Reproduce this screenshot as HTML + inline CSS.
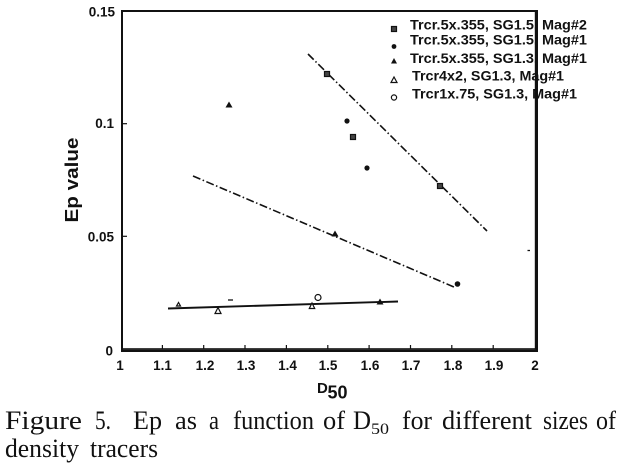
<!DOCTYPE html>
<html>
<head>
<meta charset="utf-8">
<style>
  html,body{margin:0;padding:0;background:#fff;}
  #wrap{position:relative;width:628px;height:467px;overflow:hidden;}
  svg{display:block;position:absolute;left:0;top:0;}
  #frame{position:absolute;left:121px;top:10px;width:413px;height:338px;border:2px solid #111;box-sizing:content-box;}
  .b{font-family:"Liberation Sans",Arial,sans-serif;font-weight:bold;fill:#111;}
  .s{font-family:"Liberation Serif","Times New Roman",serif;fill:#111;}
</style>
</head>
<body>
<div id="wrap">
<svg width="628" height="467" viewBox="0 0 628 467" xmlns="http://www.w3.org/2000/svg">
  <rect width="628" height="467" fill="#fff"/>

  <!-- x ticks -->
  <g stroke="#111" stroke-width="1.2">
    <line x1="162.4" y1="349" x2="162.4" y2="345"/>
    <line x1="203.7" y1="349" x2="203.7" y2="345"/>
    <line x1="245" y1="349" x2="245" y2="345"/>
    <line x1="286.4" y1="349" x2="286.4" y2="345"/>
    <line x1="327.8" y1="349" x2="327.8" y2="345"/>
    <line x1="369.1" y1="349" x2="369.1" y2="345"/>
    <line x1="410.5" y1="349" x2="410.5" y2="345"/>
    <line x1="451.8" y1="349" x2="451.8" y2="345"/>
    <line x1="493.2" y1="349" x2="493.2" y2="345"/>
    <!-- y ticks -->
    <line x1="122" y1="123.7" x2="127" y2="123.7"/>
    <line x1="122" y1="236.3" x2="127" y2="236.3"/>
  </g>

  <!-- y tick labels -->
  <g class="b" font-size="13.5" text-anchor="end">
    <text x="115" y="16.5">0.15</text>
    <text x="114" y="128">0.1</text>
    <text x="114" y="241.5">0.05</text>
    <text x="113" y="355.5">0</text>
  </g>

  <!-- x tick labels -->
  <g class="b" font-size="13.5" text-anchor="middle">
    <text x="120" y="370">1</text>
    <text x="162.5" y="370">1.1</text>
    <text x="205" y="370">1.2</text>
    <text x="246" y="370">1.3</text>
    <text x="287.5" y="370">1.4</text>
    <text x="328" y="370">1.5</text>
    <text x="370" y="370">1.6</text>
    <text x="411" y="370">1.7</text>
    <text x="453" y="370">1.8</text>
    <text x="494" y="370">1.9</text>
    <text x="535" y="370">2</text>
  </g>

  <!-- axis titles -->
  <text class="b" font-size="15" x="317" y="393">D</text>
  <text class="b" font-size="18" x="327.5" y="398.5">50</text>
  <text class="b" font-size="18" text-anchor="middle" textLength="85" lengthAdjust="spacingAndGlyphs" transform="translate(78,180) rotate(-90)">Ep value</text>

  <!-- fit lines -->
  <g stroke="#111" fill="none">
    <line x1="308" y1="54" x2="487" y2="231" stroke-width="1.6" stroke-dasharray="8 2.5 1.5 2.5"/>
    <line x1="193" y1="176" x2="454" y2="287" stroke-width="1.6" stroke-dasharray="8 2.5 1.5 2.5"/>
    <line x1="168" y1="308.5" x2="398" y2="301.5" stroke-width="1.9"/>
  </g>

  <!-- data: squares (Mag#2) -->
  <g fill="#444" stroke="#111" stroke-width="1.2">
    <rect x="324.5" y="71.5" width="5" height="5"/>
    <rect x="350.5" y="134.5" width="5" height="5"/>
    <rect x="437.5" y="183.5" width="5" height="5"/>
    <rect x="391.5" y="26.5" width="5" height="5"/>
  </g>
  <!-- filled circles -->
  <g fill="#111">
    <circle cx="347" cy="121" r="2.6"/>
    <circle cx="367" cy="168" r="2.6"/>
    <circle cx="457.5" cy="284" r="2.8"/>
    <circle cx="394" cy="46.5" r="2.4"/>
  </g>
  <!-- filled triangles -->
  <g fill="#111">
    <polygon points="229,101.5 225.5,107.5 232.5,107.5"/>
    <polygon points="335,230.5 331.5,236.5 338.5,236.5"/>
    <polygon points="380,298.5 376.5,304.5 383.5,304.5"/>
    <polygon points="394,58 391,63.5 397,63.5"/>
  </g>
  <!-- open triangles -->
  <g fill="#fff" stroke="#111" stroke-width="1.2">
    <polygon points="218,307.5 215,313.5 221,313.5"/>
    <polygon points="312,303 309.3,308.5 314.7,308.5"/>
    <polygon points="178.5,302.5 176.5,306 180.5,306"/>
    <polygon points="394,77 391,82.5 397,82.5"/>
  </g>
  <!-- open circles -->
  <g fill="#fff" stroke="#111" stroke-width="1.2">
    <circle cx="318" cy="297.5" r="3"/>
    <circle cx="394" cy="97.5" r="2.6"/>
  </g>
  <!-- stray marks -->
  <g stroke="#111" stroke-width="1.3">
    <line x1="228" y1="300" x2="233" y2="300"/>
    <line x1="527.5" y1="250.5" x2="530" y2="250.5"/>
  </g>

  <!-- legend text -->
  <g class="b" font-size="14">
    <text x="410" y="29.7" textLength="177" lengthAdjust="spacingAndGlyphs">Trcr.5x.355, SG1.5, Mag#2</text>
    <text x="410" y="44.7" textLength="177" lengthAdjust="spacingAndGlyphs">Trcr.5x.355, SG1.5, Mag#1</text>
    <text x="410" y="63" textLength="177" lengthAdjust="spacingAndGlyphs">Trcr.5x.355, SG1.3, Mag#1</text>
    <text x="412" y="80.5" textLength="152" lengthAdjust="spacingAndGlyphs">Trcr4x2, SG1.3, Mag#1</text>
    <text x="412" y="98.7" textLength="165" lengthAdjust="spacingAndGlyphs">Trcr1x.75, SG1.3, Mag#1</text>
  </g>

  <!-- plot frame (svg) -->
  <g fill="#111">
    <rect x="121.2" y="10.2" width="1.7" height="339.6"/>
    <rect x="121.2" y="348.2" width="415.6" height="1.7"/>
    <rect x="121.2" y="10" width="415.6" height="2"/>
    <rect x="534.8" y="10" width="2" height="339.8"/>
  </g>

  <!-- caption -->
  <g class="s" font-size="26">
    <text x="5" y="429" textLength="77" lengthAdjust="spacingAndGlyphs">Figure</text>
    <text x="95" y="429" textLength="16" lengthAdjust="spacingAndGlyphs">5.</text>
    <text x="133" y="429" textLength="29" lengthAdjust="spacingAndGlyphs">Ep</text>
    <text x="175" y="429" textLength="22" lengthAdjust="spacingAndGlyphs">as</text>
    <text x="209" y="429" textLength="10" lengthAdjust="spacingAndGlyphs">a</text>
    <text x="233" y="429" textLength="81" lengthAdjust="spacingAndGlyphs">function</text>
    <text x="323" y="429" textLength="22" lengthAdjust="spacingAndGlyphs">of</text>
    <text x="353" y="429" textLength="18" lengthAdjust="spacingAndGlyphs">D</text>
    <text x="371" y="434" font-size="16" textLength="18" lengthAdjust="spacingAndGlyphs">50</text>
    <text x="402" y="429" textLength="30" lengthAdjust="spacingAndGlyphs">for</text>
    <text x="442" y="429" textLength="90" lengthAdjust="spacingAndGlyphs">different</text>
    <text x="543" y="429" textLength="45" lengthAdjust="spacingAndGlyphs">sizes</text>
    <text x="596" y="429" textLength="20" lengthAdjust="spacingAndGlyphs">of</text>
    <text x="5" y="457" textLength="74" lengthAdjust="spacingAndGlyphs">density</text>
    <text x="90" y="457" textLength="68" lengthAdjust="spacingAndGlyphs">tracers</text>
  </g>
</svg>
<div id="frame"></div>
</div>
</body>
</html>
